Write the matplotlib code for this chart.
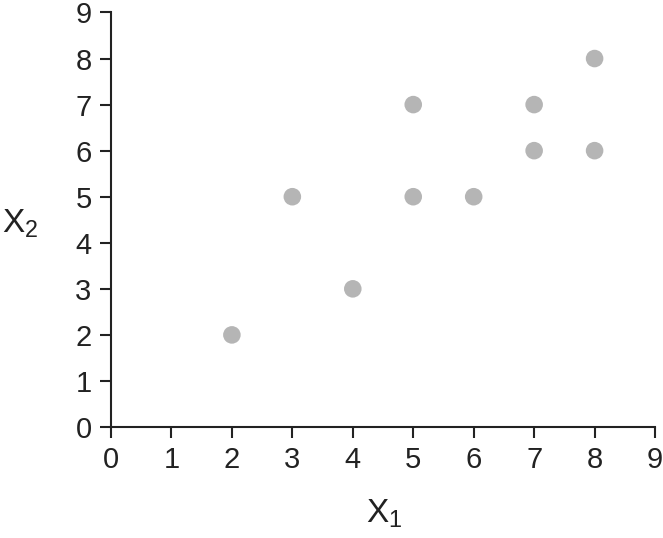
import matplotlib
matplotlib.use("Agg")
import matplotlib.pyplot as plt

# data
x1 = [2, 3, 4, 5, 5, 6, 7, 7, 8, 8]
x2 = [2, 5, 3, 7, 5, 5, 7, 6, 8, 6]
ticks = list(range(10))

plt.rcParams['font.family'] = ['Liberation Sans', 'DejaVu Sans']
plt.rcParams['mathtext.fontset'] = 'custom'
plt.rcParams['mathtext.rm'] = 'Liberation Sans'

fig = plt.figure(figsize=(6.63, 5.38), dpi=100)
ax = fig.add_axes([0.1674, 0.2063, 0.8206, 0.7705])

ax.scatter(x1, x2, s=160, color='#b5b5b5', edgecolors='none', zorder=3, clip_on=False)

ax.set_xlim(0, 9)
ax.set_ylim(0, 9)
ax.set_xticks(ticks)
ax.set_yticks(ticks)

for side in ['top', 'right']:
    ax.spines[side].set_visible(False)
for side in ['left', 'bottom']:
    ax.spines[side].set_linewidth(1.5)
    ax.spines[side].set_color('#222222')

ax.tick_params(axis='both', direction='out', length=8, width=1.5, color='#222222',
               labelsize=21, labelcolor='#222222', pad=6)

fig.text(0.58, 0.045, r'$\mathrm{X}_1$', fontsize=24, color='#222222', ha='center', va='center')
fig.text(0.03, 0.585, r'$\mathrm{X}_2$', fontsize=24, color='#222222', ha='center', va='center')

fig.savefig('out.png', dpi=100)
